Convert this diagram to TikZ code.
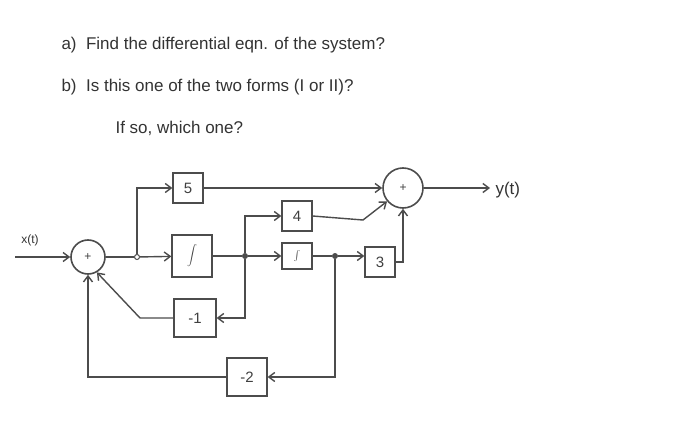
\documentclass[tikz,border=0pt]{standalone}
\usepackage{fontspec}
\setmainfont{Liberation Sans}
\usetikzlibrary{arrows.meta}
\begin{document}
\begin{tikzpicture}[x=1pt,y=-1pt,
  ln/.style={draw=black!70,line width=1.4pt},
  ar/.style={ln,-{Straight Barb[length=6pt,width=9pt]}},
  blk/.style={draw=black!70,line width=1.3pt,minimum width=30pt,minimum height=30pt,inner sep=0pt,font=\fontsize{15}{17}\selectfont,text=black!75},
  sm/.style={circle,draw=black!70,line width=1.6pt,inner sep=0pt,font=\fontsize{12}{14}\selectfont,text=black!75},
  dot/.style={circle,fill=black!70,inner sep=0pt,minimum size=6pt},
  txt/.style={font=\fontsize{17}{20}\selectfont,text=black!80,anchor=west}]
\useasboundingbox (0,0) rectangle (700,430);
\fill[white] (0,0) rectangle (700,430);
\node[txt] (ta) at (58,45) {a)\ \ Find the differential eqn. of the system?};
\node[txt] (tb) at (58,87) {b)\ \ Is this one of the two forms (I or II)?};
\node[txt] (tc) at (112,128) {If so, which one?};
\node[sm,minimum size=34pt] (s1) at (88,257) {+};
\node[sm,minimum size=40pt] (s2) at (403,188) {+};
\node[blk] (b5) at (188,188) {5};
\node[blk,minimum width=40pt,minimum height=42pt] (i1) at (192,256) {$\displaystyle\int$};
\node[blk] (b4) at (297,216) {4};
\node[blk,minimum height=26pt] (i2) at (297,256) {\large$\int$};
\node[blk] (b3) at (380,262) {3};
\node[blk,minimum width=42pt,minimum height=38pt] (bm1) at (195,318) {-1};
\node[blk,minimum width=40pt,minimum height=38pt] (bm2) at (247,377) {-2};
\node[text=black!80,font=\fontsize{12}{14}\selectfont] (x) at (30,240) {x(t)};
\node[text=black!80,font=\fontsize{17}{20}\selectfont,anchor=west] (y) at (492,190) {y(t)};
\coordinate (xin) at (15,257);
\node[circle,draw=black!70,line width=1pt,fill=white,inner sep=0pt,minimum size=5pt] (d0) at (137,257) {};
\node[dot] (d1) at (245,256) {};
\node[dot] (d2) at (335,256) {};
\draw[ar] (xin) -- (s1);
\draw[ln] (s1) -- (d0);
\draw[ar] (d0) -- (i1);
\draw[ar] (d0) |- (b5);
\draw[ln] (i1.east|-d1) -- (d1);
\draw[ar] (d1) -- (i2);
\draw[ar] (d1) |- (b4);
\draw[ln] (i2.east|-d2) -- (d2);
\draw[ar] (d2) -- (b3.west|-d2);
\draw[ar] (b5) -- (s2);
\draw[ar] (b4.east) -- (363,220) -- (s2.220);
\draw[ar] (b3.east) -| (s2.south);
\draw[ar] (s2) -- (490,188);
\draw[ar] (d1) |- (bm1.east);
\draw[ar] (bm1.west) -- (140,318) -- (s1.300);
\draw[ar] (d2) |- (bm2.east);
\draw[ar] (bm2.west) -| (s1.south);
\end{tikzpicture}
\end{document}
